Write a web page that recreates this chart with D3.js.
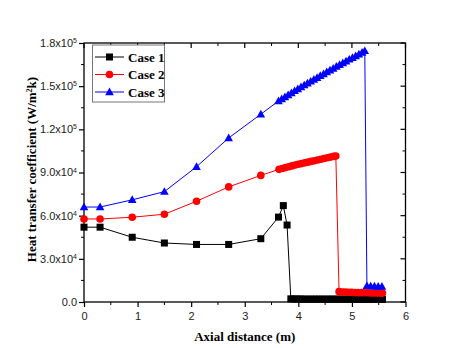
<!DOCTYPE html>
<html>
<head>
<meta charset="utf-8">
<script src="https://cdn.jsdelivr.net/npm/d3@7"></script>
<style>
  html, body { margin: 0; padding: 0; background: #fff; }
  svg { display: block; }
</style>
</head>
<body>
<svg id="chart" width="474" height="348"></svg>
<script>
// ---------- data (x in m, y in units of 1e4 W/m2k) ----------
const case1X = [0, 0.3, 0.9, 1.5, 2.1, 2.7, 3.3, 3.63, 3.72, 3.79,
  3.86, 3.92, 3.98, 4.04, 4.10, 4.16, 4.22, 4.28, 4.34, 4.40, 4.46, 4.52, 4.58, 4.64, 4.70,
  4.76, 4.82, 4.88, 4.94, 5.00, 5.06, 5.12, 5.18, 5.24, 5.30, 5.36, 5.42, 5.48, 5.54, 5.57];
const case1Y = [5.2, 5.2, 4.5, 4.1, 4.0, 4.0, 4.4, 5.9, 6.7, 5.35,
  0.22, 0.21, 0.21, 0.21, 0.20, 0.20, 0.20, 0.20, 0.20, 0.20, 0.20, 0.20, 0.20, 0.20, 0.20,
  0.20, 0.20, 0.20, 0.20, 0.19, 0.19, 0.19, 0.19, 0.19, 0.19, 0.19, 0.19, 0.19, 0.19, 0.19];

const case2X = [0, 0.3, 0.9, 1.5, 2.1, 2.7, 3.3,
  3.64, 3.70, 3.76, 3.82, 3.88, 3.94, 4.00, 4.06, 4.12, 4.18, 4.24, 4.30, 4.36, 4.42, 4.48, 4.54, 4.60, 4.66, 4.70,
  4.76, 4.82, 4.88, 4.94, 5.00, 5.06, 5.12, 5.18, 5.24, 5.30, 5.36, 5.42, 5.48, 5.54, 5.57];
const case2Y = [5.77, 5.77, 5.89, 6.1, 7.0, 8.0, 8.8,
  9.22, 9.28, 9.34, 9.40, 9.46, 9.52, 9.57, 9.62, 9.67, 9.72, 9.77, 9.82, 9.87, 9.92, 9.97, 10.02, 10.07, 10.12, 10.15,
  0.72, 0.70, 0.69, 0.68, 0.67, 0.66, 0.65, 0.65, 0.64, 0.64, 0.63, 0.63, 0.62, 0.62, 0.62];

const case3X = [0, 0.3, 0.9, 1.5, 2.1, 2.7, 3.3,
  3.63, 3.69, 3.75, 3.81, 3.87, 3.93, 3.99, 4.05, 4.11, 4.17, 4.23, 4.29, 4.35, 4.41, 4.47, 4.53,
  4.59, 4.65, 4.71, 4.77, 4.83, 4.89, 4.95, 5.01, 5.07, 5.13, 5.19, 5.24,
  5.28, 5.35, 5.42, 5.49, 5.56];
const case3Y = [6.6, 6.6, 7.1, 7.67, 9.4, 11.4, 13.05,
  13.97, 14.11, 14.25, 14.39, 14.53, 14.67, 14.80, 14.94, 15.07, 15.20, 15.33, 15.46, 15.59, 15.72, 15.85, 15.98,
  16.11, 16.23, 16.36, 16.48, 16.61, 16.73, 16.86, 16.98, 17.10, 17.22, 17.34, 17.45,
  1.12, 1.10, 1.09, 1.08, 1.07];

const seriesNames = ["Case 1", "Case 2", "Case 3"];
const seriesColors = ["#000000", "#ff0000", "#0000ff"];
const seriesShapes = ["square", "circle", "triangle"];

const xTicks = [0, 1, 2, 3, 4, 5, 6];
const yTickValues = [0, 3, 6, 9, 12, 15, 18];
const yTickMantissa = ["0.0", "3.0", "6.0", "9.0", "1.2", "1.5", "1.8"];
const yTickExp = [null, "4", "4", "4", "5", "5", "5"];

const xTitle = "Axial distance (m)";
const yTitleMain = "Heat transfer coefficient (W/m";
const yTitleSup = "2";
const yTitleEnd = "k)";

// ---------- layout ----------
const svg = d3.select("#chart");
const L = 84, R = 405.5, T = 43, B = 302;

const x = d3.scaleLinear().domain([0, 6]).range([L, R]);
const y = d3.scaleLinear().domain([0, 18]).range([B, T]);

const series = seriesNames.map((name, i) => ({
  name,
  color: seriesColors[i],
  shape: seriesShapes[i],
  pts: [case1X, case2X, case3X][i].map((xv, j) => ({x: xv, y: [case1Y, case2Y, case3Y][i][j]}))
}));

// ---------- frame ----------
svg.append("rect").attr("x", L).attr("y", T).attr("width", R - L).attr("height", B - T)
  .attr("fill", "none").attr("stroke", "#000").attr("stroke-width", 1.3);

// bottom axis
const xAxis = d3.axisBottom(x).tickValues(xTicks).tickSize(5).tickFormat(d3.format("d"));
const gx = svg.append("g").attr("transform", `translate(0,${B})`).call(xAxis);
gx.select(".domain").remove();
gx.selectAll(".tick line").attr("stroke", "#000").attr("stroke-width", 1.2);
gx.selectAll(".tick text").attr("font-family", "Liberation Sans, Arial, sans-serif")
  .attr("font-size", 11).attr("fill", "#222").attr("dy", "0.9em");
// minor x ticks
const xMinor = d3.range(0.5, 6, 1);
svg.append("g").selectAll("line").data(xMinor).join("line")
  .attr("x1", d => x(d)).attr("x2", d => x(d)).attr("y1", B).attr("y2", B + 3)
  .attr("stroke", "#000").attr("stroke-width", 1);
// top mirrored ticks (inward)
svg.append("g").selectAll("line").data(xTicks).join("line")
  .attr("x1", d => x(d)).attr("x2", d => x(d)).attr("y1", T).attr("y2", T + 5)
  .attr("stroke", "#000").attr("stroke-width", 1.2);
svg.append("g").selectAll("line").data(xMinor).join("line")
  .attr("x1", d => x(d)).attr("x2", d => x(d)).attr("y1", T).attr("y2", T + 3)
  .attr("stroke", "#000").attr("stroke-width", 1);

// left axis
const yAxis = d3.axisLeft(y).tickValues(yTickValues).tickSize(5).tickFormat("");
const gy = svg.append("g").attr("transform", `translate(${L},0)`).call(yAxis);
gy.select(".domain").remove();
gy.selectAll(".tick line").attr("stroke", "#000").attr("stroke-width", 1.2);
const yMinor = d3.range(1.5, 18, 3);
svg.append("g").selectAll("line").data(yMinor).join("line")
  .attr("x1", L - 3).attr("x2", L).attr("y1", d => y(d)).attr("y2", d => y(d))
  .attr("stroke", "#000").attr("stroke-width", 1);
// right mirrored ticks (inward)
svg.append("g").selectAll("line").data(yTickValues).join("line")
  .attr("x1", R - 5).attr("x2", R).attr("y1", d => y(d)).attr("y2", d => y(d))
  .attr("stroke", "#000").attr("stroke-width", 1.2);
svg.append("g").selectAll("line").data(yMinor).join("line")
  .attr("x1", R - 3).attr("x2", R).attr("y1", d => y(d)).attr("y2", d => y(d))
  .attr("stroke", "#000").attr("stroke-width", 1);

// y tick labels with superscripts
const yl = svg.append("g").selectAll("text").data(yTickValues).join("text")
  .attr("x", L - 7).attr("y", d => y(d)).attr("dy", "0.35em")
  .attr("text-anchor", "end")
  .attr("font-family", "Liberation Sans, Arial, sans-serif").attr("font-size", 11).attr("fill", "#222");
yl.each(function(d, i) {
  const t = d3.select(this);
  if (yTickExp[i] === null) {
    t.text(yTickMantissa[i]);
  } else {
    t.append("tspan").text(yTickMantissa[i] + "x10");
    t.append("tspan").attr("font-size", 7).attr("dy", "-0.55em").text(yTickExp[i]);
  }
});

// axis titles
svg.append("text").attr("x", (L + R) / 2).attr("y", 341)
  .attr("text-anchor", "middle").attr("font-family", "Liberation Serif, Times New Roman, serif")
  .attr("font-weight", "bold").attr("font-size", 13).text(xTitle);

const yt = svg.append("text")
  .attr("transform", `translate(36,${(T + B) / 2 - 3}) rotate(-90)`)
  .attr("text-anchor", "middle").attr("font-family", "Liberation Serif, Times New Roman, serif")
  .attr("font-weight", "bold").attr("font-size", 13);
yt.append("tspan").text(yTitleMain);
yt.append("tspan").attr("font-size", 8).attr("dy", "-0.5em").text(yTitleSup);
yt.append("tspan").attr("dy", "0.32em").text(yTitleEnd);

// ---------- markers ----------
function drawMarker(g, shape, color, cx, cy) {
  if (shape === "square") {
    g.append("rect").attr("x", cx - 3.5).attr("y", cy - 3.5).attr("width", 7).attr("height", 7).attr("fill", color);
  } else if (shape === "circle") {
    g.append("circle").attr("cx", cx).attr("cy", cy).attr("r", 3.8).attr("fill", color);
  } else {
    g.append("path").attr("d", `M${cx},${cy - 4.5}L${cx + 4.3},${cy + 3.2}L${cx - 4.3},${cy + 3.2}Z`).attr("fill", color);
  }
}

const line = d3.line().x(d => x(d.x)).y(d => y(d.y));
const plot = svg.append("g");
series.forEach(s => {
  plot.append("path").datum(s.pts).attr("d", line)
    .attr("fill", "none").attr("stroke", s.color).attr("stroke-width", 1);
});
series.forEach(s => {
  const g = plot.append("g");
  s.pts.forEach(p => drawMarker(g, s.shape, s.color, x(p.x), y(p.y)));
});

// ---------- legend ----------
const lg = svg.append("g");
lg.append("rect").attr("x", 92.5).attr("y", 45).attr("width", 72).attr("height", 57)
  .attr("fill", "#fff").attr("stroke", "#777").attr("stroke-width", 1);
series.forEach((s, i) => {
  const yy = 57 + i * 17.5;
  lg.append("line").attr("x1", 95).attr("x2", 124).attr("y1", yy).attr("y2", yy)
    .attr("stroke", s.color).attr("stroke-width", 1);
  drawMarker(lg, s.shape, s.color, 109.5, yy);
  lg.append("text").attr("x", 128).attr("y", yy).attr("dy", "0.35em")
    .attr("font-family", "Liberation Serif, Times New Roman, serif").attr("font-weight", "bold")
    .attr("font-size", 13).text(s.name);
});
</script>
</body>
</html>
